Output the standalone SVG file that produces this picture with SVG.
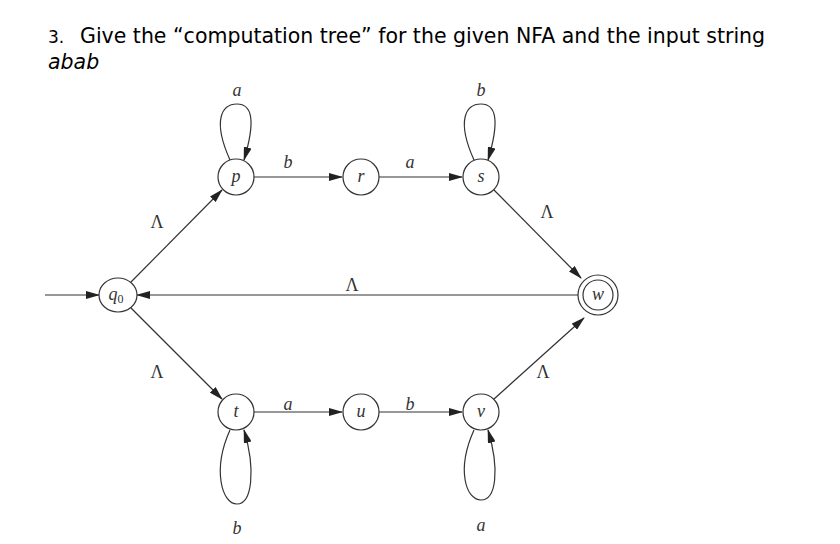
<svg xmlns="http://www.w3.org/2000/svg" width="840" height="544" viewBox="0 0 840 544">
<style>
.n{fill:#fff;stroke:#333;stroke-width:1.2}
.e{fill:none;stroke:#333;stroke-width:1.2;marker-end:url(#ah)}
.l{font-family:"Liberation Serif",serif;font-style:italic;font-size:18px;fill:#333;text-anchor:middle}
.g{font-family:"Liberation Serif",serif;font-size:18px;fill:#333;text-anchor:middle}
.t{font-family:"DejaVu Sans",sans-serif;font-size:20.5px;fill:#000}
</style>
<defs><marker id="ah" markerWidth="14" markerHeight="8" refX="13" refY="4" orient="auto" markerUnits="userSpaceOnUse"><path d="M0,0 L14,4 L0,8 Z" fill="#222"/></marker></defs>
<rect width="840" height="544" fill="#fff"/>
<text class="t" x="48" y="43"><tspan font-size="17">3.</tspan><tspan x="80">Give the “computation tree” for the given NFA and the input string</tspan></text>
<text class="t" x="48" y="69" font-style="italic">abab</text>
<g id="connectors">
<path class="e" d="M45,295 H99"/>
<path class="e" d="M131,282 L222,190"/>
<path class="e" d="M131,308 L222,399"/>
<path class="e" d="M254,177 H342"/>
<path class="e" d="M379,177 H462"/>
<path class="e" d="M494,190 L581,278"/>
<path class="e" d="M578,295 H137"/>
<path class="e" d="M254,412 H342"/>
<path class="e" d="M379,412 H462"/>
<path class="e" d="M494,399 L584,318"/>
<path class="e" d="M230,160 C212,120 222,104 237,104 C252,104 256,120 244,160"/>
<path class="e" d="M474,160 C456,120 466,104 481,104 C496,104 500,120 488,160"/>
<path class="e" d="M230,430 C212,470 222,504 237,504 C252,504 256,470 244,430"/>
<path class="e" d="M474,430 C456,470 466,500 481,500 C496,500 500,470 488,430"/>
<text class="l" x="237" y="96">a</text>
<text class="l" x="481" y="96">b</text>
<text class="l" x="288" y="168">b</text>
<text class="l" x="410" y="168">a</text>
<text class="g" x="157" y="228">Λ</text>
<text class="g" x="547" y="218">Λ</text>
<text class="g" x="352" y="291">Λ</text>
<text class="g" x="157" y="378">Λ</text>
<text class="g" x="543" y="378">Λ</text>
<text class="l" x="288" y="410">a</text>
<text class="l" x="410" y="410">b</text>
<text class="l" x="237" y="534">b</text>
<text class="l" x="481" y="531">a</text>
</g>
<g id="q0"><ellipse class="n" cx="118" cy="295" rx="19" ry="17"/><text class="l" x="116" y="300">q<tspan font-size="12" dy="3" font-style="normal">0</tspan></text></g>
<g id="p"><circle class="n" cx="236" cy="177" r="18"/><text class="l" x="236" y="182">p</text></g>
<g id="r"><circle class="n" cx="361" cy="177" r="18"/><text class="l" x="361" y="182">r</text></g>
<g id="s"><circle class="n" cx="481" cy="177" r="18"/><text class="l" x="481" y="182">s</text></g>
<g id="w"><circle class="n" cx="598" cy="295" r="20"/><circle class="n" cx="598" cy="295" r="15"/><text class="l" x="598" y="300">w</text></g>
<g id="t"><circle class="n" cx="236" cy="412" r="18"/><text class="l" x="236" y="417">t</text></g>
<g id="u"><circle class="n" cx="361" cy="412" r="18"/><text class="l" x="361" y="417">u</text></g>
<g id="v"><circle class="n" cx="481" cy="412" r="18"/><text class="l" x="481" y="417">v</text></g>
</svg>
